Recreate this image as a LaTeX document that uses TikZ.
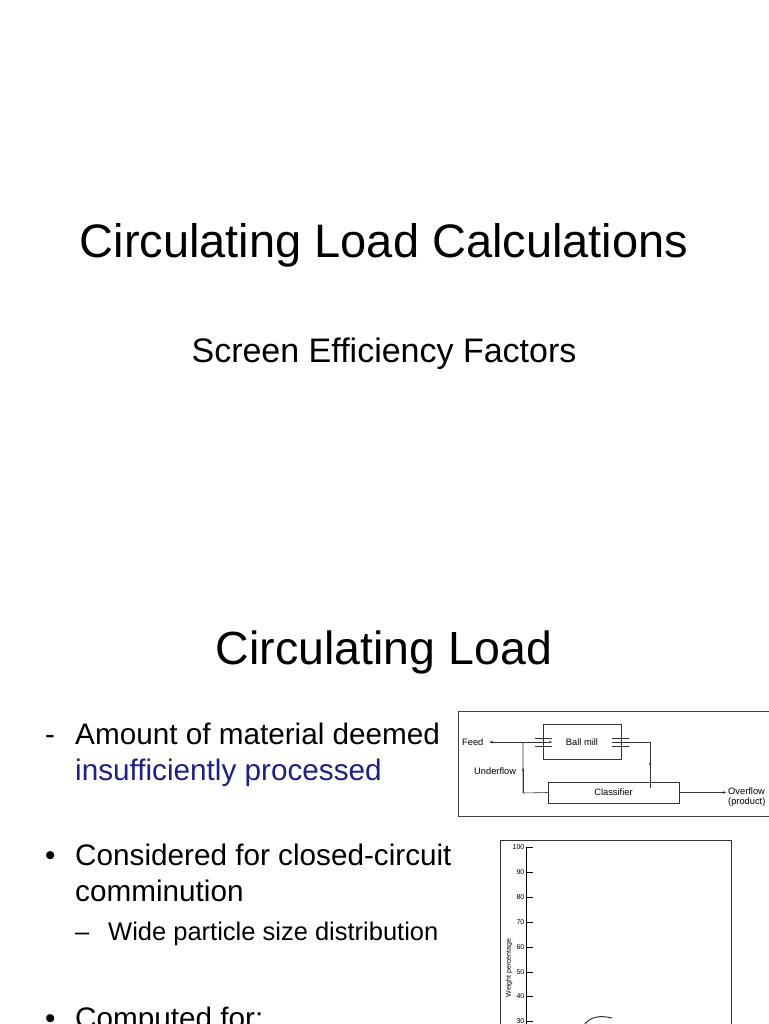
\documentclass[tikz,border=0pt]{standalone}
\usepackage{fontspec}
\setmainfont{Liberation Sans}
\usetikzlibrary{arrows.meta}
\definecolor{navy}{HTML}{1F1F8A}
\begin{document}
\begin{tikzpicture}[x=1pt,y=-1pt,
  txt/.style={anchor=base west,inner sep=0pt},
  thin line/.style={draw=black!80,line width=0.6pt},
  arr/.style={thin line,-{Stealth[length=3pt,width=2.5pt]}},
  small/.style={font=\fontsize{9.3}{10.5}\selectfont,inner sep=0pt}]
\useasboundingbox (0,0) rectangle (768,1024);
\fill[white] (0,0) rectangle (768,1024);
\node[anchor=base,inner sep=0pt,font=\fontsize{47}{50}\selectfont] (t1) at (384,258) {Circulating Load Calculations};
\node[anchor=base,inner sep=0pt,font=\fontsize{34}{38}\selectfont] (t2) at (384,362) {Screen Efficiency Factors};
\node[anchor=base,inner sep=0pt,font=\fontsize{46.5}{50}\selectfont] (t3) at (384,664) {Circulating Load};
\begin{scope}[font=\fontsize{29.7}{33}\selectfont]
\node[txt] (d1) at (45,744) {-};
\node[txt] (l1) at (75,744) {Amount of material deemed};
\node[txt,text=navy] (l2) at (75,780) {insufficiently processed};
\node[txt] (b1) at (45,865) {•};
\node[txt] (l3) at (75,865) {Considered for closed-circuit};
\node[txt] (l4) at (75,901) {comminution};
\node[txt] (b2) at (45,1028) {•};
\node[txt] (l6) at (75,1028) {Computed for:};
\end{scope}
\node[txt,font=\fontsize{25.5}{29}\selectfont] (d2) at (75,940) {–};
\node[txt,font=\fontsize{25.5}{29}\selectfont] (l5) at (108,940) {Wide particle size distribution};
% flow diagram
\draw[black!75,line width=1pt] (458,711) rectangle (770,816);
\node[thin line,minimum width=78,minimum height=35,inner sep=0,small] (mill) at (582,742) {Ball mill};
\node[thin line,minimum width=131,minimum height=21,inner sep=0,small] (cls) at (613.5,792.5) {Classifier};
\node[small,anchor=west] (feed) at (462,742) {Feed};
\node[small,anchor=west] (under) at (474,771) {Underflow};
\node[small,align=left,anchor=west] (over) at (728,797) {Overflow\\(product)};
\draw[thin line] (535,738) -- (552,738) (535,746) -- (552,746);
\draw[thin line] (612,738) -- (629,738) (612,746) -- (629,746);
\draw[arr] (522,742) -- (490,742);
\draw[arr] (490,742) -- (552,742);
\coordinate (r1) at (650,742);
\draw[thin line] (612,742) -- (r1) -- (650,788);
\draw[arr] (650,788) -- (650,762);
\draw[thin line] (cls.west) -- (523,793) -- (523,742);
\draw[arr] (523,793) -- (523,768);
\coordinate (oe) at (726,792.5);
\draw[arr] (cls.east) -- (oe);
% graph
\draw[black!80,line width=0.8pt] (500,840) rectangle (731,1030);
\draw[line width=0.6pt] (526,847) -- (526,1030);
\foreach \v/\y in {100/847,90/872,80/897,70/922,60/947,50/972,40/996,30/1021}{
  \draw[line width=0.5pt] (526,\y) -- (533,\y);
  \node[font=\fontsize{7}{8}\selectfont,anchor=east,inner sep=0.5pt] at (525,\y) {\v};
}
\node[font=\fontsize{7}{8}\selectfont,rotate=90,inner sep=0] (wp) at (509,968) {Weight percentage};
\draw[black!80,line width=1pt] (585,1024) .. controls (590,1017) and (600,1015) .. (612,1018);
\end{tikzpicture}
\end{document}
